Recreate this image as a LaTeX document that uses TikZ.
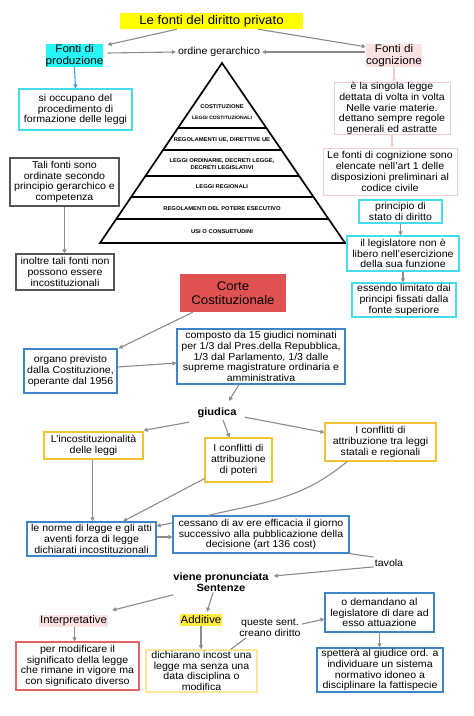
\documentclass[tikz,border=0pt]{standalone}
\usepackage{fontspec}
\setmainfont{Liberation Sans}[FakeStretch=1.06]
\usetikzlibrary{arrows.meta}
\definecolor{cyanfill}{RGB}{40,245,245}
\definecolor{cyanline}{RGB}{70,220,235}
\definecolor{blueline}{RGB}{61,133,198}
\definecolor{yellowline}{RGB}{241,194,50}
\definecolor{redline}{RGB}{224,102,102}
\definecolor{lyellowline}{RGB}{255,229,153}
\definecolor{pinkline}{RGB}{244,204,204}
\definecolor{pinkfill}{RGB}{252,226,226}
\definecolor{darkline}{RGB}{85,85,85}
\definecolor{redfill}{RGB}{224,82,82}
\definecolor{titlefill}{RGB}{255,255,0}
\definecolor{addfill}{RGB}{255,236,60}
\definecolor{arrgray}{RGB}{140,140,140}
\definecolor{arrblue}{RGB}{61,160,230}
\begin{document}
\begin{tikzpicture}[x=1pt,y=-1pt,
  base/.style={font=\fontsize{10}{10.8}\selectfont, align=center, inner sep=0pt},
  box/.style={base, draw, line width=1.2pt},
  pyr/.style={font=\fontsize{5.5}{6.5}\selectfont\bfseries, align=center, inner sep=0pt},
  arr/.style={draw=arrgray, line width=1.1pt, -{Triangle[length=4pt,width=4pt]}},
  ln/.style={draw=arrgray, line width=1.1pt},
  boldtxt/.style={base, font=\fontsize{10.5}{11.5}\selectfont\bfseries}
]
\useasboundingbox (0,0) rectangle (474,716);
\fill[white] (0,0) rectangle (474,716);

% top
\node[base, fill=titlefill, minimum width=183pt, minimum height=16pt, font=\fontsize{12.5}{13}\selectfont] (title) at (211.5,21) {Le fonti del diritto privato};
\node[base, fill=cyanfill, minimum width=57pt, minimum height=23pt, font=\fontsize{11}{11.5}\selectfont] (fp) at (74.5,55.5) {Fonti di\\produzione};
\node[base, inner sep=2pt] (og) at (219,52) {ordine gerarchico};
\node[base, fill=pinkfill, minimum width=56pt, minimum height=23pt, font=\fontsize{11}{11.5}\selectfont] (fc) at (394,55.5) {Fonti di\\cognizione};

\draw[arr] ([xshift=-34.5pt]title.south) -- ([xshift=4pt,yshift=-1pt]fp.north east);
\draw[arr] ([xshift=46.5pt]title.south) -- ([yshift=-3pt]fc.north west);
\draw[arr] ([yshift=2.5pt,xshift=4pt]fp.east) -- (og.west);
\draw[arr] ([yshift=3.5pt,xshift=-1pt]fc.west) -- (og.east);

% left column top
\node[box, draw=cyanline, minimum width=113pt, minimum height=41pt] (b1) at (75.5,109.5) {si occupano del\\procedimento di\\formazione delle leggi};
\draw[draw=arrblue, line width=1.1pt, -{Triangle[length=4pt,width=4pt]}] (fp.south) -- (b1.north);

\node[box, draw=darkline, minimum width=109pt, minimum height=48pt] (b7) at (64.5,182) {Tali fonti sono\\ordinate secondo\\principio gerarchico e\\competenza};
\node[box, draw=darkline, minimum width=98pt, minimum height=36pt] (b8) at (65,272) {inoltre tali fonti non\\possono essere\\incostituzionali};
\draw[arr] (b7.south) -- (b7.south |- b8.north);

% pyramid
\draw[line width=1.7pt, line join=miter] (222,63) -- (345,243) -- (100,243) -- cycle;
\draw[line width=1.7pt] (177.9,128) -- (266.4,128);
\draw[line width=1.7pt] (163.0,150) -- (281.4,150);
\draw[line width=1.7pt] (145.4,176) -- (299.2,176);
\draw[line width=1.7pt] (131.2,197) -- (313.6,197);
\draw[line width=1.7pt] (116.3,219) -- (328.6,219);
\node[pyr] (p1) at (222,107) {COSTITUZIONE};
\node[pyr, font=\fontsize{4.8}{6}\selectfont\bfseries] (p2) at (222,118) {LEGGI COSTITUZIONALI};
\node[pyr] (p3) at (222,140) {REGOLAMENTI UE, DIRETTIVE UE};
\node[pyr] (p4) at (222,164) {LEGGI ORDINARIE, DECRETI LEGGE,\\DECRETI LEGISLATIVI};
\node[pyr] (p5) at (222,186.5) {LEGGI REGIONALI};
\node[pyr] (p6) at (222,209) {REGOLAMENTI DEL POTERE ESECUTIVO};
\node[pyr] (p7) at (222,232) {USI O CONSUETUDINI};

% right column
\node[box, draw=pinkline, line width=0.8pt, minimum width=116pt, minimum height=51pt] (b2) at (392,108.5) {è la singola legge\\dettata di volta in volta\\Nelle varie materie.\\dettano sempre regole\\generali ed astratte};
\node[box, draw=pinkline, line width=0.8pt, minimum width=134pt, minimum height=47pt] (b3) at (390,171.5) {Le fonti di cognizione sono\\elencate nell'art 1 delle\\disposizioni preliminari al\\codice civile};
\node[box, draw=cyanline, minimum width=83pt, minimum height=23pt] (b4) at (400.5,211.5) {principio di\\stato di diritto};
\node[box, draw=cyanline, minimum width=112pt, minimum height=35pt] (b5) at (403,253.5) {il legislatore non è\\libero nell'esercizione\\della sua funzione};
\node[box, draw=cyanline, minimum width=104pt, minimum height=34pt] (b6) at (404,300) {essendo limitato dai\\principi fissati dalla\\fonte superiore};
\draw[draw=pinkline, line width=1.1pt, -{Triangle[length=4pt,width=4pt]}] (fc.south) -- (fc.south |- b2.north);
\draw[draw=pinkline, line width=1.1pt, -{Triangle[length=4pt,width=4pt]}] (b2.south) -- (b2.south |- b3.north);
\draw[arr] (b4.south) -- (b4.south |- b5.north);
\draw[arr] (b5.south) -- (b5.south |- b6.north);

% Corte
\node[base, fill=redfill, minimum width=106pt, minimum height=38pt, font=\fontsize{12.5}{13.5}\selectfont] (cc) at (233,293) {Corte\\Costituzionale};
\node[box, draw=blueline, minimum width=93pt, minimum height=44pt] (b9) at (70.5,371) {organo previsto\\dalla Costituzione,\\operante dal 1956};
\node[box, draw=blueline, minimum width=168pt, minimum height=55pt] (b10) at (261,356.5) {composto da 15 giudici nominati\\per 1/3 dal Pres.della Repubblica,\\1/3 dal Parlamento, 1/3 dalle\\supreme magistrature ordinaria e\\amministrativa};
\draw[arr] ([xshift=13pt]cc.south west) -- ([xshift=1pt]b9.north east);
\draw[arr] ([yshift=4pt]b9.east) -- ([yshift=-6.5pt]b10.west);

\node[boldtxt, inner sep=2pt] (gi) at (217,413) {giudica};
\draw[arr] ([xshift=-22pt]b10.south) -- ([xshift=12pt,yshift=5pt]gi.north);

\node[box, draw=yellowline, minimum width=99pt, minimum height=27pt] (y1) at (93.5,445.5) {L'incostituzionalità\\delle leggi};
\node[box, draw=yellowline, minimum width=67pt, minimum height=44pt] (y2) at (238.5,460) {I conflitti di\\attribuzione\\di poteri};
\node[box, draw=yellowline, minimum width=111pt, minimum height=38pt] (y3) at (380.5,442) {I conflitti di\\attribuzione tra leggi\\statali e regionali};
\draw[arr] ([xshift=-6pt,yshift=-2pt]gi.south west) -- ([yshift=1pt]y1.north east);
\draw[arr] ([xshift=6pt]gi.south) -- ([xshift=-9pt]y2.north);
\draw[arr] ([xshift=6pt,yshift=3pt]gi.south east) -- ([yshift=-10pt]y3.north west);

\node[box, draw=blueline, minimum width=129pt, minimum height=34pt] (b11) at (91.5,539) {le norme di legge e gli atti\\aventi forza di legge\\dichiarati incostituzionali};
\node[box, draw=blueline, minimum width=176pt, minimum height=37pt] (b12) at (261,534.5) {cessano di av ere efficacia il giorno\\successivo alla pubblicazione della\\decisione (art 136 cost)};
\draw[arr] ([xshift=-1pt]y1.south) -- ([xshift=-1pt]y1.south |- b11.north);
\draw[arr] ([yshift=4pt]y2.south west) -- ([xshift=31.5pt]b11.north);
\draw[ln] ([xshift=-33.5pt]y3.south) to[out=-140,in=13] ([xshift=-53pt]b12.north);
\draw[arr] ([yshift=11.5pt]b12.west) -- ([yshift=13pt]b11.east);
\draw[arr] ([yshift=2pt]b11.east) -- ([yshift=-2.5pt]b12.west);

\node[base, inner sep=1pt] (tav) at (389,563) {tavola};
\node[boldtxt, inner sep=1pt] (sent) at (221,582) {viene pronunciata\\Sentenze};
\draw[ln] (b12.south east) -- ([yshift=1pt]tav.north west);
\draw[arr] ([yshift=1pt]tav.south west) -- ([xshift=4pt,yshift=6pt]sent.east);

\node[base, fill=pinkfill, minimum width=69pt, minimum height=12pt, font=\fontsize{10.8}{11}\selectfont] (interp) at (73.5,620.5) {Interpretative};
\node[base, fill=addfill, minimum width=42pt, minimum height=12pt, font=\fontsize{10.8}{11}\selectfont] (addit) at (201,620) {Additive};
\node[base, inner sep=1pt] (qs) at (270,628) {queste sent.\\creano diritto};
\draw[arr] ([xshift=1pt,yshift=-2pt]sent.south west) -- ([xshift=4pt,yshift=4pt]interp.north east);
\draw[arr] ([xshift=-8pt]sent.south) -- ([xshift=6pt,yshift=2pt]addit.north);

\node[box, draw=blueline, minimum width=109pt, minimum height=39pt] (dem) at (379.5,612.5) {o demandano al\\legislatore di dare ad\\esso attuazione};
\node[box, draw=redline, minimum width=123pt, minimum height=48pt] (per) at (77.5,666) {per modificare il\\significato della legge\\che rimane in vigore ma\\con significato diverso};
\node[box, draw=lyellowline, minimum width=111pt, minimum height=42pt] (dic) at (201.5,671) {dichiarano incost una\\legge ma senza una\\data disciplina o\\modifica};
\node[box, draw=blueline, minimum width=126pt, minimum height=44pt] (spet) at (380,670) {spetterà al giudice ord. a\\individuare un sistema\\normativo idoneo a\\disciplinare la fattispecie};

\draw[arr] ([yshift=-6pt]qs.north east) -- ([yshift=-6.5pt]dem.west);
\draw[ln] ([xshift=8pt]qs.south west) -- ([xshift=-27pt]dic.north east);
\draw[arr] ([xshift=1pt]interp.south) -- ([xshift=1pt]interp.south |- per.north);
\draw[arr] (addit.south) -- (addit.south |- dic.north);
\draw[arr] (dem.south) -- (dem.south |- spet.north);
\end{tikzpicture}
\end{document}
